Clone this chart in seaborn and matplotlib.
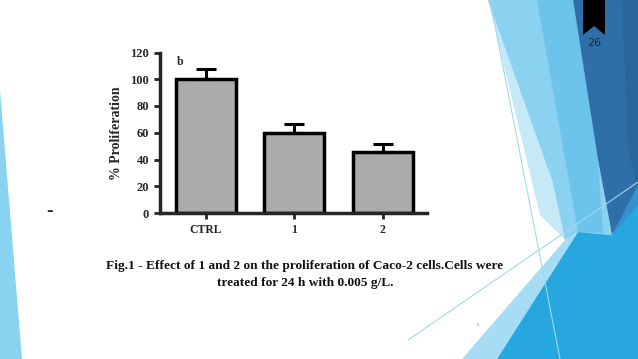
import numpy as np
import pandas as pd
import matplotlib
matplotlib.use('Agg')
import matplotlib.pyplot as plt
from matplotlib.patches import Polygon
import seaborn as sns

# ------------------------------------------------------------
# Data
# ------------------------------------------------------------
groups = ['CTRL', '1', '2']
proliferation = [100, 60, 45.5]
sem = [7.5, 6.5, 6]
y_ticks = [0, 20, 40, 60, 80, 100, 120]

caption_1 = 'Fig.1 - Effect of 1 and 2 on the proliferation of Caco-2 cells.Cells were'
caption_2 = 'treated for 24 h with 0.005 g/L.'

df = pd.DataFrame({'group': groups, 'value': proliferation, 'sem': sem})

sns.set_style('ticks')
plt.rcParams['font.family'] = ['Liberation Serif', 'DejaVu Serif']

W, H = 638, 359
fig = plt.figure(figsize=(W / 100, H / 100), dpi=100)

# ------------------------------------------------------------
# Slide background (drawn in pixel coordinates)
# ------------------------------------------------------------
bg = fig.add_axes([0, 0, 1, 1], zorder=0)
bg.set_xlim(0, W)
bg.set_ylim(H, 0)
bg.axis('off')

shapes = [
    ([(0, 90), (0, 359), (22, 359)], '#8ad3f0'),
    # pale wedge in the lower part
    ([(565, 240), (513, 300), (462, 359), (497, 359), (578, 232)], '#a6dcf4'),
    ([(488, 0), (500, 0), (552, 180), (565, 240), (540, 215)], '#c6e9f8'),
    ([(488, 0), (573, 0), (598, 160), (612, 235), (578, 232), (565, 240), (552, 180)], '#8bd1f0'),
    ([(537, 0), (573, 0), (598, 160), (603, 233), (578, 232)], '#6cc3eb'),
    ([(573, 0), (638, 0), (638, 190), (612, 235), (598, 160)], '#2e6fa8'),
    ([(622, 0), (638, 0), (638, 190), (628, 150)], '#2a669c'),
    ([(638, 185), (638, 265), (612, 235)], '#3590d0'),
    ([(497, 359), (578, 232), (612, 235), (638, 205), (638, 359)], '#27a7e0'),
]
for pts, col in shapes:
    bg.add_patch(Polygon(pts, closed=True, facecolor=col, edgecolor='none'))
bg.plot([490, 560], [0, 359], color='#9fd8f0', lw=0.8)
bg.plot([408, 638], [340, 182], color='#9fd8f0', lw=0.8)

# bookmark ribbon with slide number
bg.add_patch(Polygon([(583, 0), (605, 0), (605, 35), (594, 26), (583, 35)],
                     closed=True, facecolor='black', edgecolor='none'))
bg.text(594, 43, '26', ha='center', va='center', fontsize=8,
        family='DejaVu Sans', color='#1a2a3a')
bg.text(478, 325, '11', ha='center', va='center', fontsize=3.5, color='#6aaed6')
bg.text(50, 212, '-', ha='center', va='center', fontsize=14, fontweight='bold')

# caption
bg.text(305, 266, caption_1, ha='center', va='center', fontsize=9.6,
        fontweight='bold', color='#111111')
bg.text(305, 283, caption_2, ha='center', va='center', fontsize=9.6,
        fontweight='bold', color='#111111')

# ------------------------------------------------------------
# Bar chart
# ------------------------------------------------------------
ax = fig.add_axes([160 / W, 1 - 213 / H, (427 - 160) / W, (213 - 52.5) / H], zorder=2)
ax.patch.set_alpha(0)
sns.barplot(data=df, x='group', y='value', ax=ax, color='#ababab',
            edgecolor='black', linewidth=2.5, width=0.68, errorbar=None,
            saturation=1)
ax.errorbar(np.arange(len(groups)), df['value'],
            yerr=[np.zeros(len(groups)), df['sem']], fmt='none',
            ecolor='black', elinewidth=2.2, capsize=7, capthick=2.2, zorder=1)

ax.set_ylim(0, 120)
ax.set_xlim(-0.52, 2.5)
ax.set_yticks(y_ticks)
ax.set_yticklabels([str(t) for t in y_ticks], fontsize=9, fontweight='bold')
ax.set_xticks(range(len(groups)))
ax.set_xticklabels(groups, fontsize=8.5, fontweight='bold')
ax.set_xlabel('')
ax.set_ylabel('% Proliferation', fontsize=10, fontweight='bold', labelpad=5)
ax.tick_params(axis='both', width=2, length=4, direction='out', pad=4)
sns.despine(ax=ax)
for sp in ['left', 'bottom']:
    ax.spines[sp].set_linewidth(2.5)

ax.text(-0.33, 113, 'b', fontsize=8.5, fontweight='bold', ha='left', va='center')

fig.savefig('out.png', dpi=100)
